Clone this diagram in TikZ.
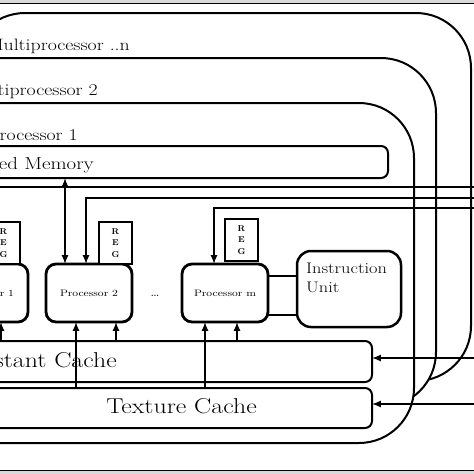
\documentclass[tikz,border=0pt]{standalone}
\usepackage{fontspec}
\usetikzlibrary{positioning}
\newcommand{\widetxt}[1]{\scalebox{1.2}[1]{#1}}
\tikzset{
    mp-box/.style = {draw, fill=white, line width=2pt, rectangle, rounded corners=55pt, outer sep=0pt, inner sep=0pt},
    mp-title/.style = {font=\fontsize{16.5}{19}\selectfont, anchor=base east, inner sep=0pt},
    mem-box/.style = {draw, fill=white, line width=2pt, rectangle, rounded corners=7pt, outer sep=0pt, inner sep=0pt},
    mem-title/.style = {font=\fontsize{21.5}{25}\selectfont, inner sep=0pt},
    proc-box/.style = {draw, fill=white, line width=2.8pt, rectangle, rounded corners=10pt, minimum width=86pt, minimum height=58pt, outer sep=0pt, font=\fontsize{9.4}{11}\selectfont},
    reg-box/.style = {draw, fill=white, line width=2.8pt, rectangle, minimum width=33pt, minimum height=42pt, outer sep=0pt, inner sep=0pt, align=center, font=\fontsize{8.5}{11.5}\selectfont\bfseries},
    iu-box/.style = {draw, fill=white, line width=2.5pt, rectangle, rounded corners=14pt, minimum width=104pt, minimum height=76pt, outer sep=0pt},
    link/.style = {line width=2pt, -latex},
}

\begin{document}
\begin{tikzpicture}[x=1pt, y=-1pt]
\clip (0,0) rectangle (474,474);
\fill[gray!30] (0,0) rectangle (474,3) (0,471) rectangle (474,474);
\node[draw, line width=1.5pt, minimum width=900pt, minimum height=467pt, outer sep=0pt, inner sep=0pt] (device) at (237,237) {};

% multiprocessors, back to front
\node[mp-box, minimum width=501pt, minimum height=368pt] (mpn) at (220.5,197) {};
\node[mp-title] (mpn-title) at (130,50) {\widetxt{Multiprocessor ..n}};
\node[mp-box, minimum width=496pt, minimum height=349pt] (mp2) at (188,232.5) {};
\node[mp-title] (mp2-title) at (98,95) {\widetxt{Multiprocessor 2}};
\node[mp-box, minimum width=504pt, minimum height=340pt] (mp1) at (162,273) {};
\node[mp-title] (mp1-title) at (78,140) {\widetxt{Multiprocessor 1}};

\node[mem-box, minimum width=458pt, minimum height=32pt] (shmem) at (159,162) {};
\node[font=\fontsize{17.4}{20}\selectfont, anchor=base east, inner sep=0pt] (shmem-title) at (94,169) {\widetxt{Shared Memory}};

% processors
\node[proc-box] (proc1) at (-15,293) {\widetxt{Processor 1}\hspace{8pt}};
\node[proc-box, right=18pt of proc1] (proc2) {\widetxt{Processor 2}\hspace{8pt}};
\node[proc-box, right=50pt of proc2] (procm) {\widetxt{Processor m}\hspace{4pt}};
\node[font=\fontsize{16}{18}\selectfont] (dots) at (155,296) {\dots};
\node[reg-box, anchor=south east, xshift=-8pt] (reg1) at (proc1.north east) {R\\E\\G};
\node[reg-box, anchor=south east] (reg2) at (proc2.north east) {R\\E\\G};
\node[reg-box, above=3pt of procm.north, xshift=16.5pt] (regm) {R\\E\\G};

\node[iu-box, right=29pt of procm, yshift=4pt] (iu) {};
\node[font=\fontsize{15.3}{19}\selectfont, anchor=north west, align=left, inner sep=0pt] (iu-title) at ([xshift=9pt, yshift=-12pt]iu.north west) {\widetxt{Instruction}\\\widetxt{Unit}};
\draw[line width=2pt] ([yshift=17pt]procm.east) -- ([yshift=17pt]procm.east -| iu.west);
\draw[line width=2pt] ([yshift=-22pt]procm.east) -- ([yshift=-22pt]procm.east -| iu.west);

% caches
\node[mem-box, minimum width=442pt, minimum height=41pt] (const) at (151,361.5) {};
\node[mem-title, anchor=base east] (const-title) at (117,367) {\widetxt{Constant Cache}};
\node[mem-box, minimum width=442pt, minimum height=40pt] (tex) at (151,408) {};
\node[mem-title, anchor=base] (tex-title) at (181.5,413) {\widetxt{Texture Cache}};

% shared memory <-> processors
\draw[link, latex-latex] ([xshift=-24pt]proc1.north |- shmem.south) -- ([xshift=-24pt]proc1.north);
\draw[link, latex-latex] ([xshift=-24pt]proc2.north |- shmem.south) -- ([xshift=-24pt]proc2.north);

% caches -> processors
\draw[link] ([xshift=-13pt]proc1.south |- tex.north) -- ([xshift=-13pt]proc1.south);
\draw[link] ([xshift=16pt]proc1.south |- const.north) -- ([xshift=16pt]proc1.south);
\draw[link] ([xshift=-13pt]proc2.south |- tex.north) -- ([xshift=-13pt]proc2.south);
\draw[link] ([xshift=27pt]proc2.south |- const.north) -- ([xshift=27pt]proc2.south);
\draw[link] ([xshift=-20pt]procm.south |- tex.north) -- ([xshift=-20pt]procm.south);
\draw[link] ([xshift=12pt]procm.south |- const.north) -- ([xshift=12pt]procm.south);

% feeds from the right
\coordinate (feed-a) at (480,187);
\coordinate (feed-b) at (480,198);
\coordinate (feed-c) at (480,208);
\coordinate (feed-const) at (480,358);
\coordinate (feed-tex) at (480,404);
\draw[link] (feed-a) -| ([xshift=-3pt]proc1.north);
\draw[link] (feed-b) -| ([xshift=-3pt]proc2.north);
\draw[link] (feed-c) -| ([xshift=-11pt]procm.north);
\draw[link] (feed-const) -- (feed-const -| const.east);
\draw[link] (feed-tex) -- (feed-tex -| tex.east);
\end{tikzpicture}
\end{document}
